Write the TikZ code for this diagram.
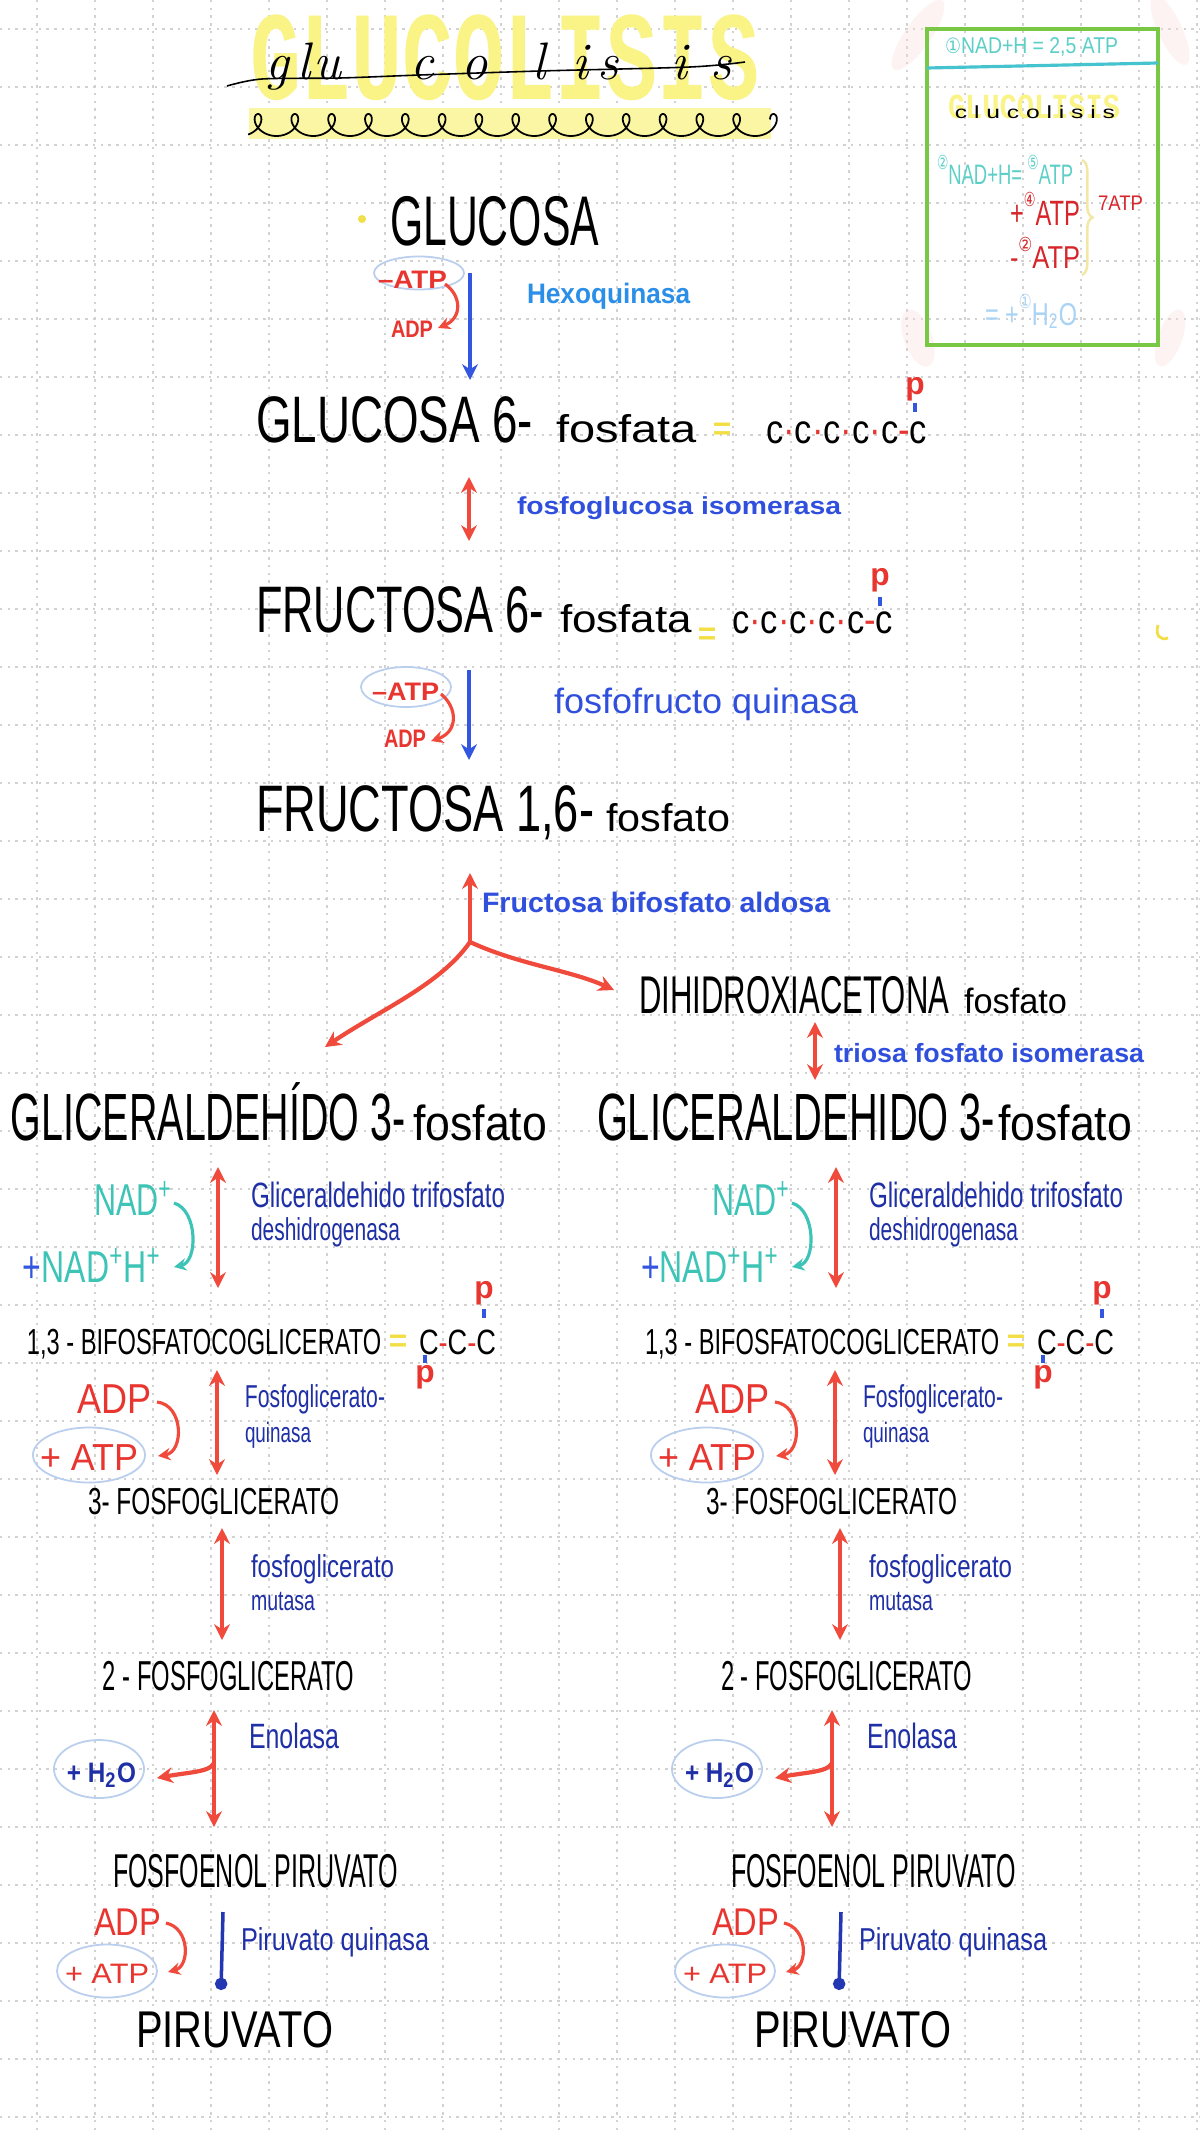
\documentclass[tikz,border=0pt]{standalone}
\usepackage{fontspec}
\usepackage{graphicx}
\usetikzlibrary{arrows.meta,shapes.geometric,decorations.pathreplacing}
\newfontfamily\hw{Liberation Sans}
\newfontfamily\dv{DejaVu Sans}
\newfontfamily\mono{Liberation Mono}
\definecolor{cred}{HTML}{F04A3C}
\definecolor{tred}{HTML}{E8352F}
\definecolor{hexo}{HTML}{2B8FE8}
\definecolor{barr}{HTML}{3356E0}
\definecolor{enz}{HTML}{2F4FDC}
\definecolor{navy}{HTML}{1F2FA6}
\definecolor{teal1}{HTML}{3EC4B6}
\definecolor{ovalc}{HTML}{BACEEE}
\definecolor{ytitle}{HTML}{FAF386}
\definecolor{yhl}{HTML}{FBF6A3}
\definecolor{ydot}{HTML}{F2DF45}
\definecolor{gbox}{HTML}{78C846}
\definecolor{bteal}{HTML}{5CCFC7}
\definecolor{lteal}{HTML}{45C3CF}
\definecolor{lblue}{HTML}{A9D3F5}
\definecolor{bred}{HTML}{D7262B}
\definecolor{gridc}{HTML}{D2D2D2}
\definecolor{pinkc}{HTML}{FBD9D9}
\definecolor{ybrace}{HTML}{F3E7A6}
\newcommand\fw[2]{\resizebox{#1}{\height}{#2}}
\newcommand\fs[1]{\fontsize{#1}{#1}\selectfont}
\newcommand\rd[1]{{\color{tred}#1}}
\newcommand\cn[1]{\raisebox{1.0ex}{\dv\fs{5.5}#1}}
\tikzset{
  txt/.style={inner sep=0pt, outer sep=0pt, font=\hw, anchor=base west},
  ctr/.style={inner sep=0pt, outer sep=0pt, font=\hw},
  arrtip/.style={-{Stealth[length=4.5pt,width=4.5pt]}},
  darrtip/.style={{Stealth[length=4.5pt,width=4.5pt]}-{Stealth[length=4.5pt,width=4.5pt]}},
  redline/.style={draw=cred, line width=1.2pt},
  blueline/.style={draw=barr, line width=0.9pt},
  curv/.style={line width=0.9pt, -{Stealth[length=3.5pt,width=3.5pt]}},
  oval/.style={draw=ovalc, line width=0.5pt, ellipse, inner sep=0pt, outer sep=0pt},
  gridl/.style={draw=gridc, line width=0.4pt, dash pattern=on 0.7pt off 1.5pt},
  ptick/.style={draw=barr, line width=1pt},
}
\begin{document}
\begin{tikzpicture}[x=0.01cm,y=-0.01cm]
\useasboundingbox (0,0) rectangle (1200,2133);
\fill[white] (0,0) rectangle (1200,2133);
\foreach \k in {0,...,20} \draw[gridl] ({37+58*\k},0) -- ({37+58*\k},2133);
\foreach \k in {0,...,36} \draw[gridl] (0,{29+58*\k}) -- (1200,{29+58*\k});

% ---------- title ----------
\fill[yhl] (249,108) rectangle (771,139);
\node[txt] (title) at (250,100) {\fw{5.09cm}{\color{ytitle}\mono\bfseries\fs{36}GLUCOLISIS}};
\foreach \l/\x [count=\i] in {g/277,l/304,u/327,c/422,o/475,l/539,i/580,s/608,i/679,s/721}
  \node[inner sep=0pt, anchor=base, font=\rmfamily\itshape\fs{15}] (sc\i) at (\x,80) {\l};
\draw[black, line width=0.45pt] plot[smooth] coordinates {(227,86) (262,79) (340,78) (420,75) (540,71) (690,67) (745,62)};
\draw[black, line width=0.5pt] plot[domain=-150:5100, samples=700, smooth] ({258+5.86*rad(\x)-11*sin(\x)},{125-11*cos(\x)});

% ---------- summary box ----------
\fill[pinkc, opacity=0.3, rotate around={-35:(918,35)}] (918,35) ellipse (0.13cm and 0.42cm);
\fill[pinkc, opacity=0.3, rotate around={25:(1170,30)}] (1170,30) ellipse (0.12cm and 0.38cm);
\fill[pinkc, opacity=0.3, rotate around={20:(918,338)}] (918,338) ellipse (0.14cm and 0.3cm);
\fill[pinkc, opacity=0.3, rotate around={-20:(1170,338)}] (1170,338) ellipse (0.12cm and 0.3cm);
\draw[gbox, line width=1.1pt] (927,29) rectangle (1158,345);
\draw[lteal, line width=0.9pt] (927,68) -- (1158,63);
\node[txt, text=bteal] (bx1) at (945,53) {\fw{1.73cm}{\fs{6.5}{\dv\fs{6}①}NAD+H = 2,5 ATP}};
\node[txt] (bx2) at (948,118) {\fw{1.72cm}{\color{ytitle}\mono\bfseries\fs{10}GLUCOLISIS}};
\node[ctr] (bx3) at (1035,112) {\fw{1.6cm}{\fs{5}c l u c o l i s i s}};
\node[txt, text=bteal] (bx4) at (937,184) {\fw{1.36cm}{\fs{8}\cn{②}NAD+H= \cn{⑤}ATP}};
\node[txt, text=bred] (bx5) at (1010,225) {\fw{0.70cm}{\fs{10}+\cn{④}ATP}};
\node[txt, text=bred] (bx6) at (1010,268) {\fw{0.70cm}{\fs{9}-\cn{②}ATP}};
\coordinate (brt) at (1082,160);
\coordinate (brb) at (1082,275);
\draw[ybrace, line width=0.7pt, decorate, decoration={brace, amplitude=3pt}] (brt) -- (brb);
\node[txt, text=bred] (bx7) at (1098,210) {\fw{0.45cm}{\fs{6}7ATP}};
\node[txt, text=lblue] (bx8) at (985,325) {\fw{0.92cm}{\fs{9}= +\cn{①}H\textsubscript{2}O}};

% ---------- glucosa -> G6P ----------
\fill[ydot] (362,219) circle (0.04cm);
\node[txt] (glc) at (390,245) {\fw{2.09cm}{\fs{20}GLUCOSA}};
\node[oval, minimum width=0.9cm, minimum height=0.33cm] (ov1) at (419,273) {};
\node[txt, text=tred] (atp1) at (378,288) {\fw{0.69cm}{\bfseries\fs{7.2}–ATP}};
\node[txt, text=tred] (adp1) at (391,337) {\fw{0.42cm}{\bfseries\fs{6.8}ADP}};
\coordinate (c1a) at (445,284);
\coordinate (c1b) at (438,328);
\draw[curv, cred] (c1a) .. controls (462,296) and (462,318) .. (c1b);
\coordinate (a1s) at (470,273);
\coordinate (a1e) at (470,380);
\draw[blueline, arrtip] (a1s) -- (a1e);
\node[txt, text=hexo] (enz1) at (527,303) {\fw{1.63cm}{\bfseries\fs{8}Hexoquinasa}};

\node[txt] (g6p) at (256,442) {\fw{2.77cm}{\fs{18.7}GLUCOSA 6-}};
\node[txt] (g6pb) at (556,442) {\fw{1.41cm}{\fs{11}fosfata}};
\node[ctr, text=ydot] (eq1) at (722,431) {\bfseries\fs{9}=};
\node[txt] (ch1) at (766,443) {\fw{1.61cm}{\fs{11.5}c\rd{·}c\rd{·}c\rd{·}c\rd{·}c\rd{-}c}};
\node[ctr, text=tred] (p1) at (915,389) {\bfseries\fs{9}p};
\draw[ptick] (915,403) -- (915,412);

% ---------- G6P <-> F6P ----------
\coordinate (a2s) at (469,477);
\coordinate (a2e) at (469,541);
\draw[redline, darrtip] (a2s) -- (a2e);
\node[txt, text=enz] (enz2) at (517,514) {\fw{3.24cm}{\bfseries\fs{7}fosfoglucosa isomerasa}};

\node[txt] (f6p) at (256,632) {\fw{2.88cm}{\fs{18.7}FRUCTOSA 6-}};
\node[txt] (f6pb) at (560,632) {\fw{1.32cm}{\fs{11}fosfata}};
\node[ctr, text=ydot] (eq2) at (707,636) {\bfseries\fs{9}=};
\node[txt] (ch2) at (732,633) {\fw{1.61cm}{\fs{11.5}c\rd{·}c\rd{·}c\rd{·}c\rd{·}c\rd{-}c}};
\node[ctr, text=tred] (p2) at (880,580) {\bfseries\fs{9}p};
\draw[ptick] (880,597) -- (880,606);

% ---------- F6P -> F16BP ----------
\node[oval, minimum width=0.9cm, minimum height=0.4cm] (ov2) at (406,687) {};
\node[txt, text=tred] (atp2) at (372,700) {\fw{0.67cm}{\bfseries\fs{7.2}–ATP}};
\node[txt, text=tred] (adp2) at (384,747) {\fw{0.42cm}{\bfseries\fs{7.2}ADP}};
\coordinate (c2a) at (441,694);
\coordinate (c2b) at (431,741);
\draw[curv, cred] (c2a) .. controls (458,708) and (458,732) .. (c2b);
\coordinate (a3s) at (469,670);
\coordinate (a3e) at (469,760);
\draw[blueline, arrtip] (a3s) -- (a3e);
\node[txt, text=enz] (enz3) at (554,713) {\fw{3.04cm}{\fs{10}fosfofructo quinasa}};

\node[txt] (f16) at (256,831) {\fw{3.38cm}{\fs{18.7}FRUCTOSA 1,6-}};
\node[txt] (f16b) at (606,831) {\fw{1.24cm}{\fs{11}fosfato}};

% ---------- aldolasa ----------
\coordinate (br) at (470,942);
\coordinate (brup) at (470,873);
\coordinate (brl) at (325,1047);
\coordinate (brr) at (614,990);
\draw[redline, arrtip] (br) -- (brup);
\draw[redline, arrtip] (br) .. controls (440,985) and (380,1010) .. (brl);
\draw[redline, arrtip] (br) .. controls (520,965) and (570,970) .. (brr);
\node[txt, text=enz] (enz4) at (482,912) {\fw{3.48cm}{\bfseries\fs{8}Fructosa bifosfato aldosa}};

\node[txt] (dhap) at (639,1013) {\fw{3.10cm}{\fs{15.1}DIHIDROXIACETONA}};
\node[txt] (dhapb) at (964,1013) {\fw{1.03cm}{\fs{10}fosfato}};
\coordinate (a5s) at (815,1022);
\coordinate (a5e) at (815,1080);
\draw[redline, darrtip] (a5s) -- (a5e);
\node[txt, text=enz] (enz5) at (834,1062) {\fw{3.10cm}{\bfseries\fs{7.5}triosa fosfato isomerasa}};

\node[txt] (gapL) at (11,1140) {\fw{3.94cm}{\fs{19}GLICERALDEHÍDO 3-}};
\node[txt] (gapLb) at (413,1140) {\fw{1.34cm}{\fs{14}fosfato}};
\node[txt] (gapR) at (597,1140) {\fw{3.98cm}{\fs{19}GLICERALDEHIDO 3-}};
\node[txt] (gapRb) at (998,1140) {\fw{1.34cm}{\fs{14}fosfato}};

% ---------- two parallel columns ----------
\foreach \s/\c in {0/L,618/R}{
  \node[txt, text=teal1] (nad\c) at ({\s+94},1215) {\fw{0.78cm}{\fs{12.7}NAD\textsuperscript{+}}};
  \node[txt, text=teal1] (nadh\c) at ({\s+23},1282) {\fw{1.38cm}{\fs{12.7}{\color{barr}+}NAD\textsuperscript{+}H\textsuperscript{+}}};
  \coordinate (t1\c) at ({\s+174},1203);
  \coordinate (t2\c) at ({\s+174},1267);
  \draw[curv, teal1] (t1\c) .. controls ({\s+198},1210) and ({\s+198},1262) .. (t2\c);
  \coordinate (r1s\c) at ({\s+218},1167);
  \coordinate (r1e\c) at ({\s+218},1288);
  \draw[redline, darrtip] (r1s\c) -- (r1e\c);
  \node[txt, text=navy] (e1\c) at ({\s+251},1207) {\fw{2.54cm}{\fs{10}Gliceraldehido trifosfato}};
  \node[txt, text=navy] (e1b\c) at ({\s+251},1240) {\fw{1.49cm}{\fs{9}deshidrogenasa}};

  \node[txt] (bpg\c) at ({\s+27},1354) {\fw{3.54cm}{\fs{10.3}1,3 - BIFOSFATOCOGLICERATO}};
  \node[ctr, text=ydot] (eqb\c) at ({\s+398},1343) {\bfseries\fs{9}=};
  \node[txt] (chb\c) at ({\s+419},1354) {\fw{0.77cm}{\fs{10}C\rd{-}C\rd{-}C}};
  \node[ctr, text=tred] (pt\c) at ({\s+484},1293) {\bfseries\fs{9}p};
  \draw[ptick] ({\s+484},1309) -- ({\s+484},1318);
  \node[ctr, text=tred] (pb\c) at ({\s+425},1377) {\bfseries\fs{9}p};
  \draw[ptick] ({\s+425},1355) -- ({\s+425},1363);

  \node[txt, text=tred] (adp\c) at ({\s+77},1413) {\fw{0.74cm}{\fs{11.9}ADP}};
  \node[oval, minimum width=1.12cm, minimum height=0.55cm] (ova\c) at ({\s+89},1455) {};
  \node[txt, text=tred] (atp\c) at ({\s+40},1470) {\fw{0.98cm}{\fs{10.7}+ ATP}};
  \coordinate (k1\c) at ({\s+157},1402);
  \coordinate (k2\c) at ({\s+158},1456);
  \draw[curv, cred] (k1\c) .. controls ({\s+184},1405) and ({\s+184},1452) .. (k2\c);
  \coordinate (r2s\c) at ({\s+217},1370);
  \coordinate (r2e\c) at ({\s+217},1475);
  \draw[redline, darrtip] (r2s\c) -- (r2e\c);
  \node[txt, text=navy] (e2\c) at ({\s+245},1407) {\fw{1.40cm}{\fs{9}Fosfoglicerato-}};
  \node[txt, text=navy] (e2b\c) at ({\s+245},1442) {\fw{0.66cm}{\fs{8}quinasa}};

  \node[txt] (pg3\c) at ({\s+88},1514) {\fw{2.51cm}{\fs{10.7}3- FOSFOGLICERATO}};
  \coordinate (r3s\c) at ({\s+222},1528);
  \coordinate (r3e\c) at ({\s+222},1640);
  \draw[redline, darrtip] (r3s\c) -- (r3e\c);
  \node[txt, text=navy] (e3\c) at ({\s+251},1577) {\fw{1.43cm}{\fs{9}fosfoglicerato}};
  \node[txt, text=navy] (e3b\c) at ({\s+251},1610) {\fw{0.64cm}{\fs{8}mutasa}};

  \node[txt] (pg2\c) at ({\s+103},1690) {\fw{2.51cm}{\fs{11.9}2 - FOSFOGLICERATO}};
  \coordinate (r4s\c) at ({\s+214},1710);
  \coordinate (r4e\c) at ({\s+214},1827);
  \coordinate (r4m\c) at ({\s+214},1763);
  \coordinate (r4w\c) at ({\s+157},1778);
  \draw[redline, darrtip] (r4s\c) -- (r4e\c);
  \draw[redline, arrtip] (r4m\c) .. controls ({\s+210},1772) and ({\s+190},1772) .. (r4w\c);
  \node[txt, text=navy] (e4\c) at ({\s+249},1748) {\fw{0.90cm}{\fs{10}Enolasa}};
  \node[oval, minimum width=0.9cm, minimum height=0.58cm] (ovh\c) at ({\s+99},1769) {};
  \node[txt, text=navy] (h2o\c) at ({\s+67},1782) {\fw{0.69cm}{\bfseries\fs{8}+ H\textsubscript{2}O}};

  \node[txt] (pep\c) at ({\s+113},1887) {\fw{2.85cm}{\fs{13.5}FOSFOENOL PIRUVATO}};
  \node[txt, text=tred] (adq\c) at ({\s+94},1935) {\fw{0.67cm}{\fs{11}ADP}};
  \node[oval, minimum width=1.0cm, minimum height=0.53cm] (ovb\c) at ({\s+107},1971) {};
  \node[txt, text=tred] (atq\c) at ({\s+65},1983) {\fw{0.84cm}{\fs{8}+ ATP}};
  \coordinate (m1\c) at ({\s+166},1923);
  \coordinate (m2\c) at ({\s+168},1972);
  \draw[curv, cred] (m1\c) .. controls ({\s+190},1928) and ({\s+190},1966) .. (m2\c);
  \coordinate (b5s\c) at ({\s+223},1912);
  \coordinate (b5e\c) at ({\s+221},1990);
  \draw[draw=navy!80!barr, line width=1pt, -{Circle[length=3.5pt]}] (b5s\c) -- (b5e\c);
  \node[txt, text=navy] (e5\c) at ({\s+241},1950) {\fw{1.88cm}{\fs{9}Piruvato quinasa}};

  \node[txt] (pir\c) at ({\s+136},2047) {\fw{1.97cm}{\fs{14.7}PIRUVATO}};
}

% stray mark
\draw[ydot, line width=0.8pt] (1158,625) .. controls (1155,635) and (1160,641) .. (1168,638);
\end{tikzpicture}
\end{document}
